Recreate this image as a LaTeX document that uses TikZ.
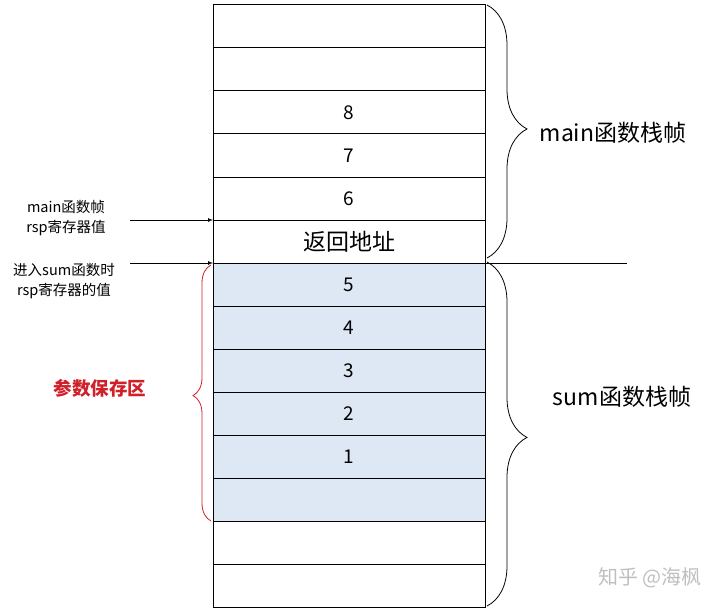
\documentclass[tikz,border=0pt]{standalone}
\usepackage{fontspec}
\setmainfont{Noto Sans CJK SC}
\usetikzlibrary{decorations.pathreplacing}
\definecolor{cellblue}{HTML}{DEE8F4}
\definecolor{redlab}{HTML}{D0202A}
\tikzset{cell/.style={draw,line width=1pt},
 brc/.style={decorate,line width=0.8pt},
 lab/.style={font=\fontsize{14.5}{20}\selectfont,align=center},
 num/.style={font=\fontsize{19}{22}\selectfont}}
\begin{document}
\begin{tikzpicture}[x=1pt,y=-1pt]
\useasboundingbox (0,0) rectangle (705,610);
\fill[cellblue] (213,263) rectangle (485,521);
\foreach \i in {0,...,13}{
  \draw[cell] (213,{5+43*\i}) rectangle (485,{48+43*\i});
}
\foreach \t [count=\i from 2] in {8,7,6}{
  \node[num] at (349,{26.5+43*\i}) {\t};}
\node[num,font=\fontsize{23}{26}\selectfont] (ret) at (349,241.5) {返回地址};
\foreach \t [count=\i from 6] in {5,4,3,2,1}{
  \node[num] at (349,{26.5+43*\i}) {\t};}
\coordinate (l1) at (130,220); \coordinate (t1) at (213,220);
\coordinate (l2) at (130,263); \coordinate (t2) at (213,263);
\coordinate (r2) at (627,263);
\draw[-latex,line width=0.7pt] (l1) -- (t1);
\draw[-latex,line width=0.7pt] (l2) -- (t2);
\draw[line width=1pt] (t2) -- (r2);
\node[lab] (m) at (66,218) {main函数帧\\rsp寄存器值};
\node[lab] (s) at (64,281) {进入sum函数时\\rsp寄存器的值};
\draw[brc,decoration={brace,amplitude=40pt,aspect=0.49}] (487,5) -- (487,258);
\node[font=\fontsize{23}{26}\selectfont] (mf) at (613,133) {main函数栈帧};
\draw[brc,decoration={brace,amplitude=40pt,aspect=0.51}] (487,262) -- (487,606);
\node[font=\fontsize{23}{26}\selectfont] (sf) at (622,397) {sum函数栈帧};
\draw[brc,redlab,decoration={brace,amplitude=18pt,aspect=0.49}] (211,521) -- (211,265);
\node[font=\fontsize{18.5}{22}\selectfont\bfseries,text=redlab] (p) at (100,388) {参数保存区};
\node[text=black!25,font=\fontsize{20}{22}\selectfont] (w) at (650,578) {知乎 @海枫};
\end{tikzpicture}
\end{document}
